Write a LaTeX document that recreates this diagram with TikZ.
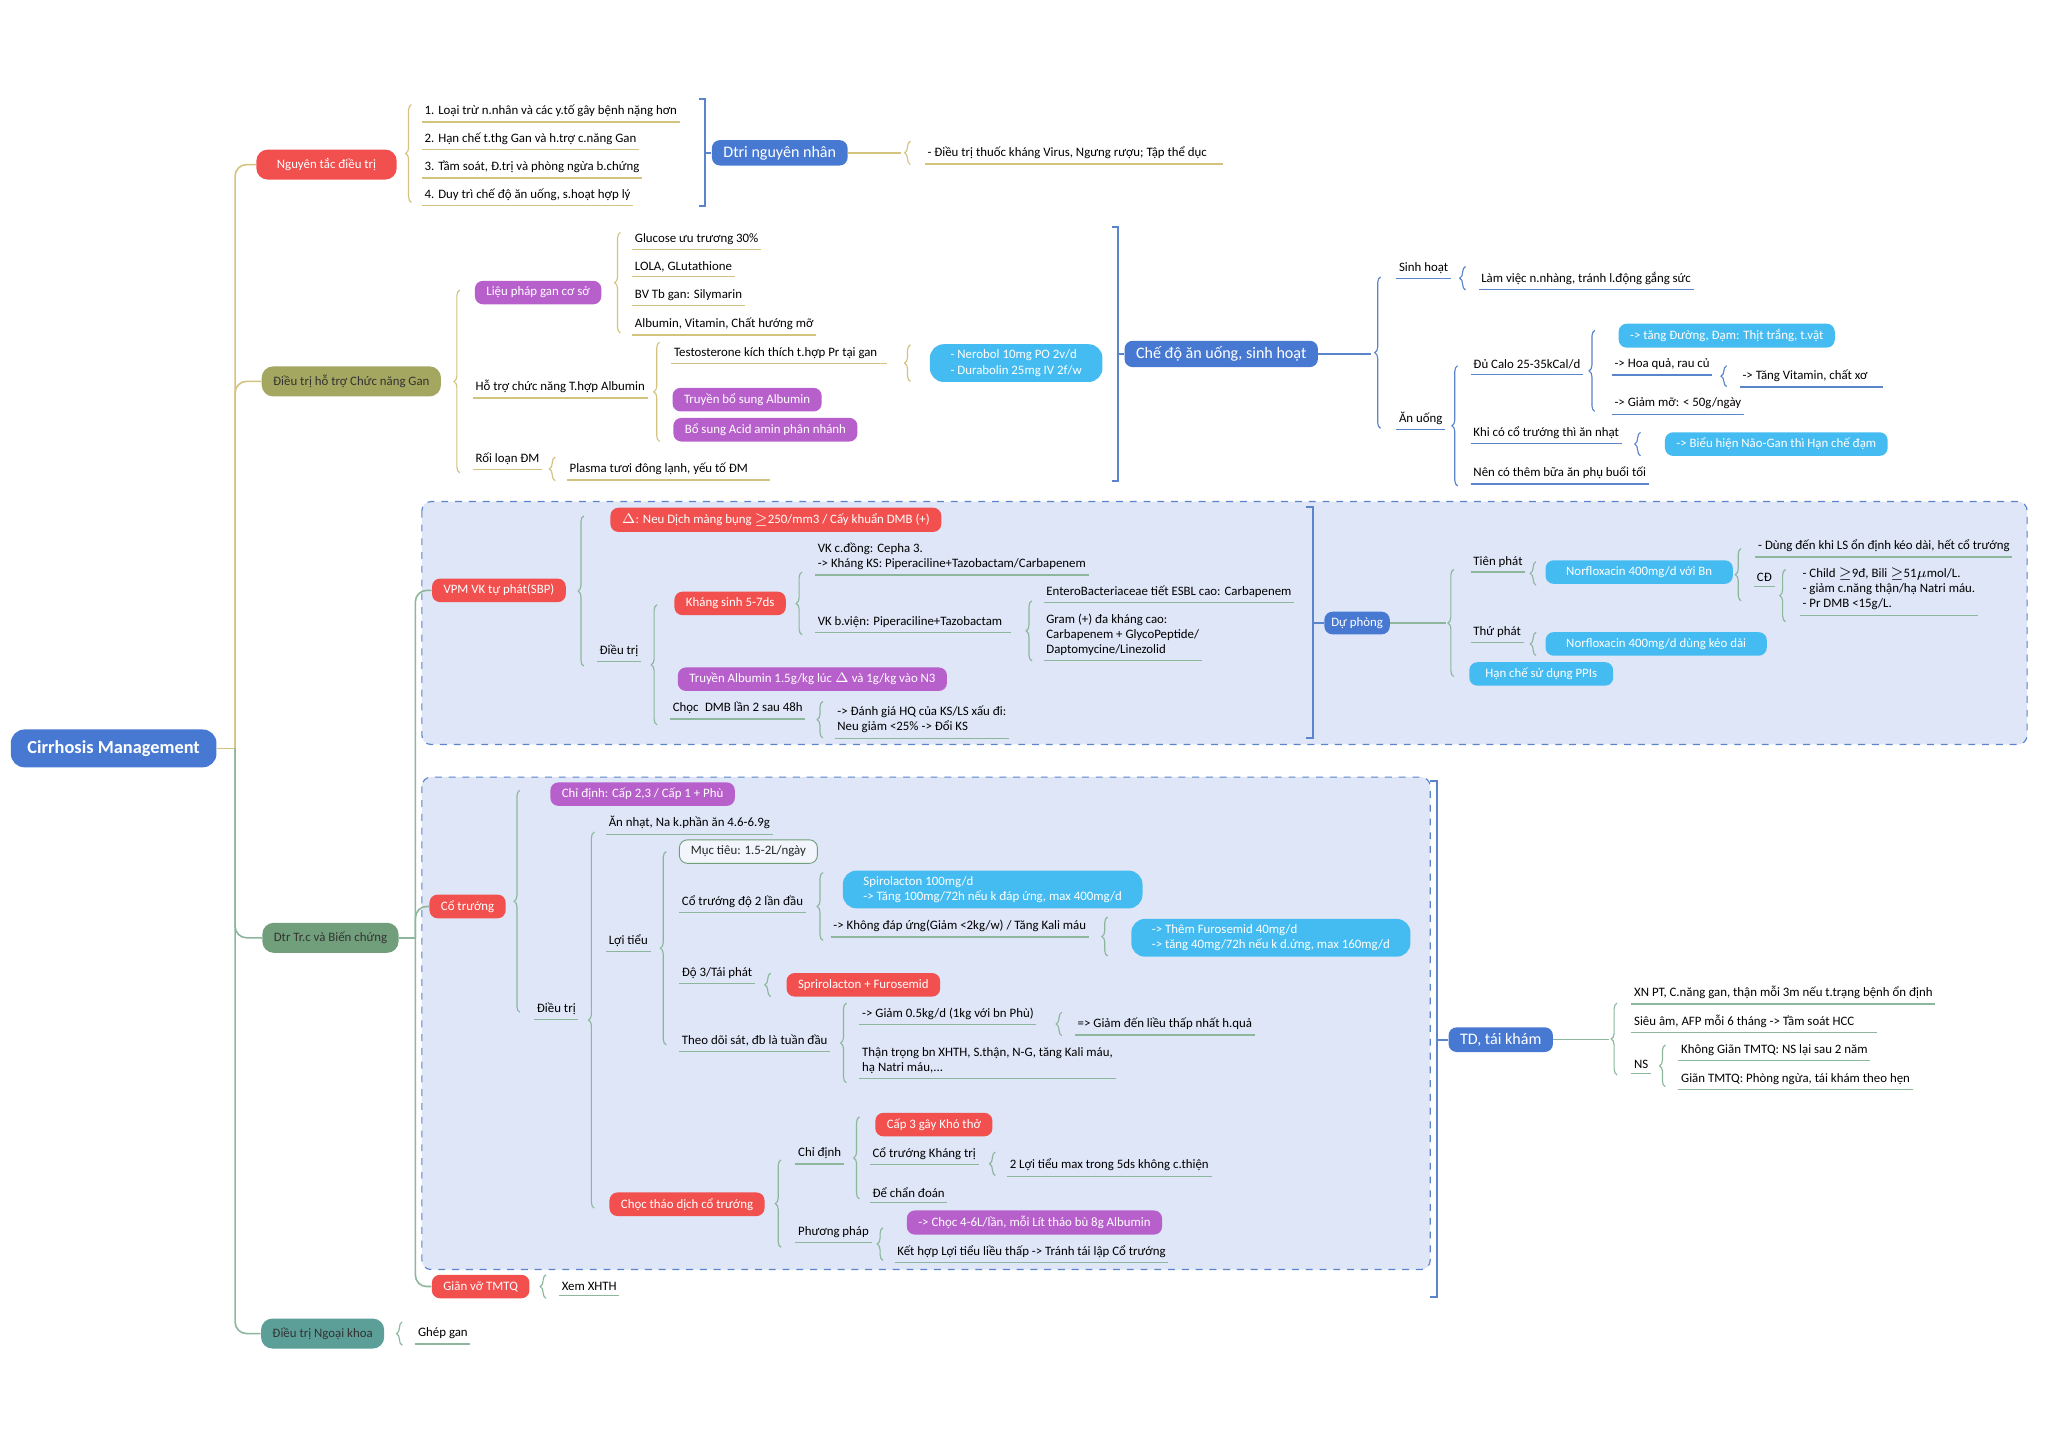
\documentclass[tikz,border=0pt]{standalone}
\usepackage{fontspec}
\setmainfont{Carlito}
\usetikzlibrary{positioning, calc, decorations.pathreplacing}
\definecolor{mred}{HTML}{F2504E}
\definecolor{mpurple}{HTML}{B760CB}
\definecolor{mcyan}{HTML}{45BCF1}
\definecolor{mblue}{HTML}{4779D2}
\definecolor{molive}{HTML}{A4A75F}
\definecolor{mgreen}{HTML}{719F7C}
\definecolor{mteal}{HTML}{5C9F98}
\definecolor{ltan}{HTML}{D4C27F}
\definecolor{lgreen}{HTML}{8DB79D}
\definecolor{lblue}{HTML}{5A84CB}
\definecolor{zone}{HTML}{DEE6F7}
\colorlet{lc}{ltan}

\begin{document}
\begin{tikzpicture}[
        x=0.02cm, y=-0.02cm,
        font=\fontsize{5.6}{6.6}\selectfont,
        box/.style={rectangle, rounded corners=3.5pt, text=white, inner xsep=5pt, inner ysep=2.5pt, minimum height=0.36cm, align=left},
        leaf/.style={anchor=west, inner xsep=1pt, inner ysep=2pt, align=left,
            append after command={(\tikzlastnode.south west) edge[draw=lc, line width=0.6pt] (\tikzlastnode.south east)}},
        br/.style={draw=lc, line width=0.5pt, decorate, decoration={brace, amplitude=2.5pt}},
        link/.style={draw=lc, line width=0.7pt, rounded corners=5pt},
        bracket/.style={draw=lblue, line width=0.9pt},
        zonebox/.style={draw=lblue, dashed, fill=zone, rounded corners=4pt, line width=0.5pt}
    ]
    \useasboundingbox[fill=white] (0,0) rectangle (1568,1108);

    % --- zones ---
    \draw[zonebox] (323,384) rectangle (1552,570);
    \draw[zonebox] (323,595) rectangle (1095,972);

    % --- root ---
    \node (root) [box, fill=mblue, font=\fontsize{8}{9}\selectfont\bfseries, minimum height=0.58cm, minimum width=3.15cm, align=center, rounded corners=6pt] at (87,573) {Cirrhosis Management};
    \node (ntdt) [box, fill=mred, minimum height=0.46cm, minimum width=2.15cm, align=center, rounded corners=5pt] at (250,126) {Nguyên tắc điều trị};
    \node (dthtr) [box, fill=molive, text=black!80, minimum height=0.46cm, rounded corners=5pt] at (269,292) {Điều trị hỗ trợ Chức năng Gan};
    \node (dtrbc) [box, fill=mgreen, text=black!80, minimum height=0.46cm, rounded corners=5pt] at (253,718) {Dtr Tr.c và Biến chứng};
    \node (ngk) [box, fill=mteal, text=black!80, minimum height=0.46cm, rounded corners=5pt] at (247,1021) {Điều trị Ngoại khoa};

    \coordinate (rj) at (180,573);
    \draw[link] (root.east) -- (rj);
    \draw[link] (rj) |- (ntdt.west);
    \draw[link] (rj) |- (dthtr.west);
    \draw[link, draw=lgreen] (rj) |- (dtrbc.west);
    \draw[link, draw=lgreen] (rj) |- (ngk.west);

    % --- Nguyen tac dieu tri ---
    \draw[br] (315,155) -- (315,80);
    \node (nt1) [leaf] at (323,85) {1. Loại trừ n.nhân và các y.tố gây bệnh nặng hơn};
    \node (nt2) [leaf] at (323,106) {2. Hạn chế t.thg Gan và h.trợ c.năng Gan};
    \node (nt3) [leaf] at (323,128) {3. Tầm soát, Đ.trị và phòng ngừa b.chứng};
    \node (nt4) [leaf] at (323,149) {4. Duy trì chế độ ăn uống, s.hoạt hợp lý};
    \draw[bracket] (535,76) -- (540,76) -- (540,158) -- (535,158);
    \node (dtnn) [box, fill=mblue, font=\fontsize{7}{8}\selectfont] at (597,117) {Dtri nguyên nhân};
    \draw[bracket] (540,117) -- (dtnn.west);
    \draw[link] (dtnn.east) -- (690,117);
    \draw[br] (697,126) -- (697,108);
    \node (dtnn1) [leaf] at (708,117) {- Điều trị thuốc kháng Virus, Ngưng rượu; Tập thể dục\hspace{0.2cm}};

    % --- Dieu tri ho tro ---
    \draw[br] (352,362) -- (352,222);
    \node (lpg) [box, fill=mpurple] at (412,224) {Liệu pháp gan cơ sở};
    \draw[br] (475,255) -- (475,178);
    \node (lp1) [leaf] at (484,183) {Glucose ưu trương 30\%};
    \node (lp2) [leaf] at (484,204) {LOLA, GLutathione};
    \node (lp3) [leaf] at (484,226) {BV Tb gan: Silymarin};
    \node (lp4) [leaf] at (484,248) {Albumin, Vitamin, Chất hướng mỡ};
    \node (htalb) [leaf] at (362,296) {Hỗ trợ chức năng T.hợp Albumin};
    \draw[br] (505,338) -- (505,262);
    \node (testo) [leaf] at (514,270) {Testosterone kích thích t.hợp Pr tại gan\hspace{0.1cm}};
    \draw[br] (697,292) -- (697,264);
    \node (nero) [box, fill=mcyan, rounded corners=6pt, inner xsep=9pt] at (778,278) {- Nerobol 10mg PO 2v/d\\- Durabolin 25mg IV 2f/w};
    \node (tbsa) [box, fill=mpurple] at (572,306) {Truyền bổ sung Albumin};
    \node (bsaa) [box, fill=mpurple] at (586,329) {Bổ sung Acid amin phân nhánh};
    \node (rldm) [leaf] at (362,351) {Rối loạn ĐM};
    \draw[br] (425,368) -- (425,350);
    \node (plasma) [leaf] at (434,359) {Plasma tươi đông lạnh, yếu tố ĐM\hspace{0.3cm}};
    \draw[bracket] (851,174) -- (856,174) -- (856,368) -- (851,368);
    \node (cdau) [box, fill=mblue, font=\fontsize{7}{8}\selectfont] at (935,271) {Chế độ ăn uống, sinh hoạt};
    \draw[bracket] (856,271) -- (cdau.west);

    % --- Che do an uong ---
    \colorlet{lc}{lblue}
    \draw[link] (cdau.east) -- (1050,271);
    \draw[br] (1057,328) -- (1057,212);
    \node (shoat) [leaf] at (1069,205) {Sinh hoạt};
    \draw[br] (1122,222) -- (1122,204);
    \node (shoat1) [leaf] at (1132,213) {Làm việc n.nhàng, tránh l.động gắng sức};
    \node (auong) [leaf] at (1069,320) {Ăn uống};
    \draw[br] (1116,372) -- (1116,280);
    \node (calo) [leaf] at (1126,279) {Đủ Calo 25-35kCal/d};
    \draw[br] (1221,315) -- (1221,253);
    \node (tdd) [box, fill=mcyan] at (1322,257) {-> tăng Đường, Đạm: Thịt trắng, t.vật};
    \node (hqrc) [leaf] at (1234,279) {-> Hoa quả, rau củ};
    \draw[br] (1322,296) -- (1322,280);
    \node (tvit) [leaf] at (1332,288) {-> Tăng Vitamin, chất xơ\hspace{0.2cm}};
    \node (gmo) [leaf] at (1234,309) {-> Giảm mỡ: < 50g/ngày};
    \node (ctan) [leaf] at (1126,331) {Khi có cổ trướng thì ăn nhạt};
    \draw[br] (1256,349) -- (1256,331);
    \node (nggan) [box, fill=mcyan] at (1360,340) {-> Biểu hiện Não-Gan thì Hạn chế đạm};
    \node (bphu) [leaf] at (1126,362) {Nên có thêm bữa ăn phụ buổi tối};

    % --- Dtr Tr.c va Bien chung ---
    \colorlet{lc}{lgreen}
    \coordinate (bj) at (318,718);
    \draw[link] (dtrbc.east) -- (bj);
    \node (vpm) [box, fill=mred] at (382,452) {VPM VK tự phát(SBP)};
    \node (ctr) [box, fill=mred] at (358,694) {Cổ trướng};
    \node (gvtm) [box, fill=mred] at (368,985) {Giãn vỡ TMTQ};
    \draw[link] (bj) |- (vpm.west);
    \draw[link] (bj) |- (ctr.west);
    \draw[link] (bj) |- (gvtm.west);

    % SBP
    \draw[br] (447,510) -- (447,395);
    \node (cdsbp) [box, fill=mred] at (594,398) {$\Delta$: Neu Dịch màng bụng $\geq$250/mm3 / Cấy khuẩn DMB (+)};
    \node (dtsbp) [leaf] at (457,498) {Điều trị};
    \draw[br] (503,555) -- (503,463);
    \node (ks) [box, fill=mred] at (559,462) {Kháng sinh 5-7ds};
    \draw[br] (614,486) -- (614,438);
    \node (vkcd) [leaf] at (624,426) {VK c.đồng: Cepha 3.\\-> Kháng KS: Piperaciline+Tazobactam/Carbapenem};
    \node (vkbv) [leaf] at (624,476) {VK b.viện: Piperaciline+Tazobactam\hspace{0.1cm}};
    \draw[br] (790,506) -- (790,460);
    \node (esbl) [leaf] at (799,453) {EnteroBacteriaceae tiết ESBL cao: Carbapenem};
    \node (gram) [leaf] at (799,486) {Gram (+) đa kháng cao:\\Carbapenem + GlycoPeptide/\\Daptomycine/Linezolid\hspace{1.6cm}};
    \node (talb) [box, fill=mpurple] at (622,520) {Truyền Albumin 1.5g/kg lúc $\Delta$ và 1g/kg vào N3};
    \node (choc2) [leaf] at (513,542) {Chọc\; DMB lần 2 sau 48h};
    \draw[br] (630,565) -- (630,537);
    \node (dghq) [leaf] at (639,551) {-> Đánh giá HQ của KS/LS xấu đi:\\Neu giảm <25\% -> Đổi KS\hspace{1.3cm}};
    \draw[bracket] (1000,388) -- (1005,388) -- (1005,565) -- (1000,565);
    \node (dphong) [box, fill=mblue, minimum height=0.34cm, inner xsep=3pt] at (1039,477) {Dự phòng};
    \draw[bracket] (1005,477) -- (dphong.west);
    \draw[link] (dphong.east) -- (1107,477);
    \draw[br] (1113,518) -- (1113,436);
    \node (tphat) [leaf] at (1126,430) {Tiên phát};
    \draw[br] (1176,448) -- (1176,430);
    \node (norf1) [box, fill=mcyan, inner xsep=9pt] at (1255,438) {Norfloxacin 400mg/d với Bn};
    \draw[br] (1333,460) -- (1333,420);
    \node (dung) [leaf] at (1344,418) {- Dùng đến khi LS ổn định kéo dài, hết cổ trướng};
    \node (cdi) [leaf] at (1343,442) {CĐ};
    \draw[br] (1367,476) -- (1367,436);
    \node (child) [leaf] at (1378,451) {- Child $\geq$9đ, Bili $\geq$51$\mu$mol/L.\\- giảm c.năng thận/hạ Natri máu.\\- Pr DMB <15g/L.\hspace{2.2cm}};
    \node (thphat) [leaf] at (1126,484) {Thứ phát};
    \draw[br] (1176,502) -- (1176,484);
    \node (norf2) [box, fill=mcyan, inner xsep=9pt] at (1268,493) {Norfloxacin 400mg/d dùng kéo dài};
    \node (ppi) [box, fill=mcyan, inner xsep=7pt] at (1180,516) {Hạn chế sử dụng PPIs};

    % Co truong
    \draw[br] (398,775) -- (398,605);
    \node (cdct) [box, fill=mpurple] at (492,608) {Chỉ định: Cấp 2,3 / Cấp 1 + Phù};
    \node (dtct) [leaf] at (409,772) {Điều trị};
    \draw[br] (455,925) -- (455,637);
    \node (annhat) [leaf] at (464,630) {Ăn nhạt, Na k.phần ăn 4.6-6.9g};
    \node (ltieu) [leaf] at (464,720) {Lợi tiểu};
    \draw[br] (510,800) -- (510,652);
    \node (mtieu) [box, draw=mgreen, fill=zone!40, text=black!85] at (573,652) {Mục tiêu: 1.5-2L/ngày};
    \node (ctd2) [leaf] at (520,690) {Cổ trướng độ 2 lần đầu};
    \draw[br] (630,720) -- (630,668);
    \node (spiro) [box, fill=mcyan, rounded corners=6pt, inner xsep=9pt] at (760,681) {Spirolacton 100mg/d\\-> Tăng 100mg/72h nếu k đáp ứng, max 400mg/d};
    \node (kdu) [leaf] at (636,709) {-> Không đáp ứng(Giảm <2kg/w) / Tăng Kali máu};
    \draw[br] (848,732) -- (848,702);
    \node (furo) [box, fill=mcyan, rounded corners=6pt, inner xsep=9pt] at (973,718) {-> Thêm Furosemid 40mg/d\\-> tăng 40mg/72h nếu k d.ứng, max 160mg/d};
    \node (do3) [leaf] at (520,745) {Độ 3/Tái phát};
    \draw[br] (590,763) -- (590,745);
    \node (spfu) [box, fill=mred] at (661,754) {Sprirolacton + Furosemid};
    \node (tdsat) [leaf] at (520,797) {Theo dõi sát, đb là tuần đầu};
    \draw[br] (648,829) -- (648,768);
    \node (g05) [leaf] at (658,776) {-> Giảm 0.5kg/d (1kg với bn Phù)};
    \draw[br] (813,793) -- (813,775);
    \node (glieu) [leaf] at (823,784) {=> Giảm đến liều thấp nhất h.quả};
    \node (ttrong) [leaf] at (658,812) {Thận trọng bn XHTH, S.thận, N-G, tăng Kali máu,\\hạ Natri máu,...};
    \node (ctdich) [box, fill=mred] at (526,922) {Chọc tháo dịch cổ trướng};
    \draw[br] (598,955) -- (598,888);
    \node (chdinh) [leaf] at (609,883) {Chỉ định};
    \draw[br] (658,918) -- (658,855);
    \node (cap3) [box, fill=mred] at (715,861) {Cấp 3 gây Khó thở};
    \node (ktri) [leaf] at (666,883) {Cổ trướng Kháng trị};
    \draw[br] (762,900) -- (762,882);
    \node (ltmax) [leaf] at (771,892) {2 Lợi tiểu max trong 5ds không c.thiện};
    \node (cdoan) [leaf] at (666,913) {Để chẩn đoán};
    \node (pphap) [leaf] at (609,943) {Phương pháp};
    \draw[br] (676,965) -- (676,940);
    \node (choc46) [box, fill=mpurple] at (792,936) {-> Chọc 4-6L/lần, mỗi Lít tháo bù 8g Albumin};
    \node (khop) [leaf] at (685,958) {Kết hợp Lợi tiểu liều thấp -> Tránh tái lập Cổ trướng};
    \draw[br] (418,994) -- (418,976);
    \node (xhth) [leaf] at (428,985) {Xem XHTH};

    % TD tai kham
    \draw[bracket] (1095,598) -- (1100,598) -- (1100,993) -- (1095,993);
    \node (tdtk) [box, fill=mblue, font=\fontsize{7}{8}\selectfont] at (1149,796) {TD, tái khám};
    \draw[bracket] (1100,796) -- (tdtk.west);
    \draw[link] (tdtk.east) -- (1232,796);
    \draw[br] (1238,823) -- (1238,768);
    \node (xnpt) [leaf] at (1249,760) {XN PT, C.năng gan, thận mỗi 3m nếu t.trạng bệnh ổn định};
    \node (sieuam) [leaf] at (1249,782) {Siêu âm, AFP mỗi 6 tháng -> Tầm soát HCC\hspace{0.3cm}};
    \node (ns) [leaf] at (1249,815) {NS};
    \draw[br] (1275,832) -- (1275,800);
    \node (kgtm) [leaf] at (1285,804) {Không Giãn TMTQ: NS lại sau 2 năm};
    \node (gtm) [leaf] at (1285,826) {Giãn TMTQ: Phòng ngừa, tái khám theo hẹn};

    % Ngoai khoa
    \draw[br] (308,1030) -- (308,1012);
    \node (ghep) [leaf] at (318,1021) {Ghép gan};
\end{tikzpicture}
\end{document}
